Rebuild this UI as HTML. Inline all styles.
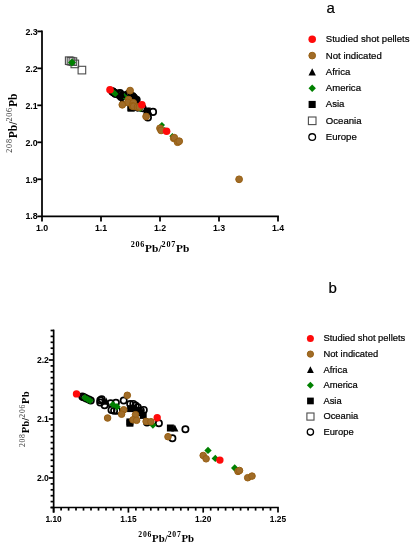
<!DOCTYPE html>
<html><head><meta charset="utf-8"><title>Figure</title>
<style>
html,body{margin:0;padding:0;background:#fff}
svg{display:block;filter:blur(0.35px)}
.t{font-family:"Liberation Sans",Arial,sans-serif;font-weight:bold;fill:#000}
.l{font-family:"Liberation Sans",Arial,sans-serif;fill:#000;stroke:#000;stroke-width:0.2px}
.s{font-family:"Liberation Serif","Times New Roman",serif;font-weight:bold;fill:#000}
</style></head><body>
<svg width="414" height="550" viewBox="0 0 414 550">
<rect width="414" height="550" fill="#fff"/>
<g stroke="#000" stroke-width="1.75" fill="none">
<path d="M42 30.53V221.6"/>
<path d="M37.3 216.25H278.9"/>
<path d="M37.3 31.40H42"/>
<path d="M37.3 68.37H42"/>
<path d="M37.3 105.34H42"/>
<path d="M37.3 142.31H42"/>
<path d="M37.3 179.28H42"/>
<path d="M101.0 216.25V221.6"/>
<path d="M160.0 216.25V221.6"/>
<path d="M219.0 216.25V221.6"/>
<path d="M278.0 216.25V221.6"/>
</g>
<text class="t" x="37.7" y="34.6" font-size="8.8" text-anchor="end">2.3</text>
<text class="t" x="37.7" y="71.6" font-size="8.8" text-anchor="end">2.2</text>
<text class="t" x="37.7" y="108.5" font-size="8.8" text-anchor="end">2.1</text>
<text class="t" x="37.7" y="145.5" font-size="8.8" text-anchor="end">2.0</text>
<text class="t" x="37.7" y="182.5" font-size="8.8" text-anchor="end">1.9</text>
<text class="t" x="37.7" y="219.4" font-size="8.8" text-anchor="end">1.8</text>
<text class="t" x="42.0" y="231.2" font-size="8.8" text-anchor="middle">1.0</text>
<text class="t" x="101.0" y="231.2" font-size="8.8" text-anchor="middle">1.1</text>
<text class="t" x="160.0" y="231.2" font-size="8.8" text-anchor="middle">1.2</text>
<text class="t" x="219.0" y="231.2" font-size="8.8" text-anchor="middle">1.3</text>
<text class="t" x="278.0" y="231.2" font-size="8.8" text-anchor="middle">1.4</text>
<text class="s" x="160" y="251.5" font-size="11.4" text-anchor="middle"><tspan font-size="8.1" dy="-4.4" letter-spacing="0.75">206</tspan><tspan dy="4.4">Pb/</tspan><tspan font-size="8.1" dy="-4.4" letter-spacing="0.75">207</tspan><tspan dy="4.4">Pb</tspan></text>
<text class="s" transform="translate(16.7 123.2) rotate(-90)" font-size="11.5" text-anchor="middle"><tspan font-size="8.2" dy="-4.5" letter-spacing="0.75" font-weight="normal" fill="#3a3a3a">208</tspan><tspan dy="4.5">Pb/</tspan><tspan font-size="8.2" dy="-4.5" letter-spacing="0.75" font-weight="normal" fill="#3a3a3a">206</tspan><tspan dy="4.5">Pb</tspan></text>
<g stroke="#000" stroke-width="1.7" fill="none">
<path d="M53.65 329.65V512.6"/>
<path d="M50.6 507.5H278.8"/>
<path d="M50.6 330.5H54"/>
<path d="M50.6 336.4H54"/>
<path d="M50.6 342.3H54"/>
<path d="M50.6 348.2H54"/>
<path d="M50.6 354.1H54"/>
<path d="M48.8 360.0H54"/>
<path d="M50.6 365.9H54"/>
<path d="M50.6 371.8H54"/>
<path d="M50.6 377.7H54"/>
<path d="M50.6 383.6H54"/>
<path d="M50.6 389.5H54"/>
<path d="M50.6 395.4H54"/>
<path d="M50.6 401.3H54"/>
<path d="M50.6 407.2H54"/>
<path d="M50.6 413.1H54"/>
<path d="M48.8 419.0H54"/>
<path d="M50.6 424.9H54"/>
<path d="M50.6 430.8H54"/>
<path d="M50.6 436.7H54"/>
<path d="M50.6 442.6H54"/>
<path d="M50.6 448.5H54"/>
<path d="M50.6 454.4H54"/>
<path d="M50.6 460.3H54"/>
<path d="M50.6 466.2H54"/>
<path d="M50.6 472.1H54"/>
<path d="M48.8 478.0H54"/>
<path d="M50.6 483.9H54"/>
<path d="M50.6 489.8H54"/>
<path d="M50.6 495.7H54"/>
<path d="M50.6 501.6H54"/>
<path d="M50.6 507.5H54"/>
<path d="M53.6 507.5V512.6"/>
<path d="M61.1 507.5V510.6"/>
<path d="M68.6 507.5V510.6"/>
<path d="M76.0 507.5V510.6"/>
<path d="M83.5 507.5V510.6"/>
<path d="M91.0 507.5V510.6"/>
<path d="M98.5 507.5V510.6"/>
<path d="M106.0 507.5V510.6"/>
<path d="M113.4 507.5V510.6"/>
<path d="M120.9 507.5V510.6"/>
<path d="M128.4 507.5V512.6"/>
<path d="M135.9 507.5V510.6"/>
<path d="M143.4 507.5V510.6"/>
<path d="M150.8 507.5V510.6"/>
<path d="M158.3 507.5V510.6"/>
<path d="M165.8 507.5V510.6"/>
<path d="M173.3 507.5V510.6"/>
<path d="M180.8 507.5V510.6"/>
<path d="M188.2 507.5V510.6"/>
<path d="M195.7 507.5V510.6"/>
<path d="M203.2 507.5V512.6"/>
<path d="M210.7 507.5V510.6"/>
<path d="M218.2 507.5V510.6"/>
<path d="M225.6 507.5V510.6"/>
<path d="M233.1 507.5V510.6"/>
<path d="M240.6 507.5V510.6"/>
<path d="M248.1 507.5V510.6"/>
<path d="M255.6 507.5V510.6"/>
<path d="M263.0 507.5V510.6"/>
<path d="M270.5 507.5V510.6"/>
<path d="M278.0 507.5V512.6"/>
</g>
<text class="t" x="48.9" y="363.3" font-size="8.6" text-anchor="end">2.2</text>
<text class="t" x="48.9" y="422.3" font-size="8.6" text-anchor="end">2.1</text>
<text class="t" x="48.9" y="481.3" font-size="8.6" text-anchor="end">2.0</text>
<text class="t" x="53.6" y="522.4" font-size="8.4" text-anchor="middle">1.10</text>
<text class="t" x="128.4" y="522.4" font-size="8.4" text-anchor="middle">1.15</text>
<text class="t" x="203.2" y="522.4" font-size="8.4" text-anchor="middle">1.20</text>
<text class="t" x="278.0" y="522.4" font-size="8.4" text-anchor="middle">1.25</text>
<text class="s" x="166.2" y="541.5" font-size="10.8" text-anchor="middle"><tspan font-size="7.7" dy="-4.2" letter-spacing="0.75">206</tspan><tspan dy="4.2">Pb/</tspan><tspan font-size="7.7" dy="-4.2" letter-spacing="0.75">207</tspan><tspan dy="4.2">Pb</tspan></text>
<text class="s" transform="translate(29.1 419.2) rotate(-90)" font-size="10.8" text-anchor="middle"><tspan font-size="7.7" dy="-4.2" letter-spacing="0.75" font-weight="normal" fill="#3a3a3a">208</tspan><tspan dy="4.2">Pb/</tspan><tspan font-size="7.7" dy="-4.2" letter-spacing="0.75" font-weight="normal" fill="#3a3a3a">206</tspan><tspan dy="4.2">Pb</tspan></text>
<text class="l" x="326.5" y="12.9" font-size="15">a</text>
<text class="l" x="328.5" y="292.9" font-size="15">b</text>
<circle cx="312.2" cy="39.3" r="3.76" fill="#ff0a0a"/>
<text class="l" x="325.8" y="42.2" font-size="9.6">Studied shot pellets</text>
<circle cx="312.2" cy="55.6" r="3.36" fill="#a06c28" stroke="#985f12" stroke-width="1"/>
<text class="l" x="325.8" y="58.5" font-size="9.6">Not indicated</text>
<path d="M312.2 68.2L315.9 75.6L308.5 75.6Z" fill="#000"/>
<text class="l" x="325.8" y="74.8" font-size="9.6">Africa</text>
<path d="M312.2 84.5L315.9 88.2L312.2 91.9L308.5 88.2Z" fill="#008000"/>
<text class="l" x="325.8" y="91.1" font-size="9.6">America</text>
<rect x="308.6" y="100.9" width="7.1" height="7.1" fill="#000"/>
<text class="l" x="325.8" y="107.4" font-size="9.6">Asia</text>
<rect x="308.4" y="117.0" width="7.6" height="7.6" fill="none" stroke="#4c4c4c" stroke-width="1.1"/>
<text class="l" x="325.8" y="123.7" font-size="9.6">Oceania</text>
<circle cx="312.2" cy="137.1" r="3.36" fill="none" stroke="#000" stroke-width="1.3"/>
<text class="l" x="325.8" y="140.0" font-size="9.6">Europe</text>
<circle cx="310.4" cy="338.5" r="3.51" fill="#ff0a0a"/>
<text class="l" x="323.4" y="341.3" font-size="9.4">Studied shot pellets</text>
<circle cx="310.4" cy="354.1" r="3.14" fill="#a06c28" stroke="#985f12" stroke-width="1"/>
<text class="l" x="323.4" y="356.9" font-size="9.4">Not indicated</text>
<path d="M310.4 366.3L313.8 373.1L307.0 373.1Z" fill="#000"/>
<text class="l" x="323.4" y="372.5" font-size="9.4">Africa</text>
<path d="M310.4 381.8L313.9 385.3L310.4 388.8L306.9 385.3Z" fill="#008000"/>
<text class="l" x="323.4" y="388.1" font-size="9.4">America</text>
<rect x="307.1" y="397.6" width="6.7" height="6.7" fill="#000"/>
<text class="l" x="323.4" y="403.7" font-size="9.4">Asia</text>
<rect x="306.9" y="413.0" width="7.1" height="7.1" fill="none" stroke="#4c4c4c" stroke-width="1.1"/>
<text class="l" x="323.4" y="419.3" font-size="9.4">Oceania</text>
<circle cx="310.4" cy="432.1" r="3.14" fill="none" stroke="#000" stroke-width="1.3"/>
<text class="l" x="323.4" y="434.9" font-size="9.4">Europe</text>
<g id="top">
<rect x="65.4" y="56.9" width="7.6" height="7.6" fill="none" stroke="#4c4c4c" stroke-width="1.1"/>
<rect x="67.2" y="57.4" width="7.6" height="7.6" fill="none" stroke="#4c4c4c" stroke-width="1.1"/>
<rect x="69.1" y="57.8" width="7.6" height="7.6" fill="none" stroke="#4c4c4c" stroke-width="1.1"/>
<rect x="71.0" y="60.1" width="7.6" height="7.6" fill="none" stroke="#4c4c4c" stroke-width="1.1"/>
<rect x="78.1" y="66.3" width="7.6" height="7.6" fill="none" stroke="#4c4c4c" stroke-width="1.1"/>
<path d="M72.0 58.4L76.0 62.4L72.0 66.4L68.0 62.4Z" fill="#008000"/>
<circle cx="112.3" cy="91.3" r="3.23" fill="none" stroke="#000" stroke-width="1.7"/>
<circle cx="112.6" cy="91.6" r="3.23" fill="none" stroke="#000" stroke-width="1.7"/>
<circle cx="113.2" cy="92.0" r="3.23" fill="none" stroke="#000" stroke-width="1.7"/>
<circle cx="113.9" cy="92.6" r="3.23" fill="none" stroke="#000" stroke-width="1.7"/>
<circle cx="114.9" cy="93.2" r="3.23" fill="none" stroke="#000" stroke-width="1.7"/>
<circle cx="115.7" cy="93.9" r="3.23" fill="none" stroke="#000" stroke-width="1.7"/>
<circle cx="119.4" cy="93.7" r="3.23" fill="none" stroke="#000" stroke-width="1.7"/>
<circle cx="120.0" cy="93.0" r="3.23" fill="none" stroke="#000" stroke-width="1.7"/>
<circle cx="119.4" cy="95.2" r="3.23" fill="none" stroke="#000" stroke-width="1.7"/>
<circle cx="121.1" cy="96.9" r="3.23" fill="none" stroke="#000" stroke-width="1.7"/>
<circle cx="123.5" cy="95.6" r="3.23" fill="none" stroke="#000" stroke-width="1.7"/>
<circle cx="125.6" cy="95.3" r="3.23" fill="none" stroke="#000" stroke-width="1.7"/>
<circle cx="123.8" cy="99.8" r="3.23" fill="none" stroke="#000" stroke-width="1.7"/>
<circle cx="124.9" cy="100.3" r="3.23" fill="none" stroke="#000" stroke-width="1.7"/>
<circle cx="126.0" cy="100.3" r="3.23" fill="none" stroke="#000" stroke-width="1.7"/>
<circle cx="128.6" cy="93.9" r="3.23" fill="none" stroke="#000" stroke-width="1.7"/>
<circle cx="131.2" cy="96.1" r="3.23" fill="none" stroke="#000" stroke-width="1.7"/>
<circle cx="132.4" cy="96.0" r="3.23" fill="none" stroke="#000" stroke-width="1.7"/>
<circle cx="133.3" cy="97.1" r="3.23" fill="none" stroke="#000" stroke-width="1.7"/>
<circle cx="134.2" cy="98.1" r="3.23" fill="none" stroke="#000" stroke-width="1.7"/>
<circle cx="135.4" cy="100.1" r="3.23" fill="none" stroke="#000" stroke-width="1.7"/>
<circle cx="136.6" cy="99.8" r="3.23" fill="none" stroke="#000" stroke-width="1.7"/>
<circle cx="137.8" cy="107.6" r="3.23" fill="none" stroke="#000" stroke-width="1.7"/>
<circle cx="142.5" cy="108.1" r="3.23" fill="none" stroke="#000" stroke-width="1.7"/>
<circle cx="147.9" cy="117.5" r="3.23" fill="none" stroke="#000" stroke-width="1.7"/>
<circle cx="153.0" cy="111.9" r="3.23" fill="none" stroke="#000" stroke-width="1.7"/>
<rect x="127.5" y="103.7" width="7.2" height="7.2" fill="#000"/>
<rect x="127.5" y="104.5" width="7.2" height="7.2" fill="#000"/>
<rect x="127.8" y="95.3" width="7.2" height="7.2" fill="#000"/>
<rect x="128.9" y="95.1" width="7.2" height="7.2" fill="#000"/>
<rect x="130.1" y="96.6" width="7.2" height="7.2" fill="#000"/>
<rect x="131.4" y="97.8" width="7.2" height="7.2" fill="#000"/>
<rect x="132.7" y="99.6" width="7.2" height="7.2" fill="#000"/>
<rect x="143.5" y="107.5" width="7.2" height="7.2" fill="#000"/>
<path d="M113.3 89.0L116.5 92.1L113.3 95.2L110.2 92.1Z" fill="#008000"/>
<path d="M114.4 90.0L117.6 93.2L114.4 96.3L111.3 93.2Z" fill="#008000"/>
<path d="M115.4 90.8L118.5 93.9L115.4 97.0L112.2 93.9Z" fill="#008000"/>
<path d="M124.4 93.3L127.5 96.4L124.4 99.6L121.3 96.4Z" fill="#008000"/>
<path d="M126.0 94.7L129.1 97.8L126.0 100.9L122.9 97.8Z" fill="#008000"/>
<path d="M140.2 106.1L143.3 109.2L140.2 112.3L137.0 109.2Z" fill="#008000"/>
<path d="M161.9 122.0L165.0 125.1L161.9 128.3L158.8 125.1Z" fill="#008000"/>
<path d="M164.8 127.0L167.9 130.1L164.8 133.3L161.6 130.1Z" fill="#008000"/>
<path d="M172.4 133.0L175.5 136.2L172.4 139.3L169.3 136.2Z" fill="#008000"/>
<path d="M121.7 90.6L125.5 98.0L118.0 98.0Z" fill="#000"/>
<path d="M148.8 107.4L152.5 114.8L145.1 114.8Z" fill="#000"/>
<circle cx="130.1" cy="90.6" r="3.39" fill="#a06c28" stroke="#985f12" stroke-width="1"/>
<circle cx="128.6" cy="99.7" r="3.39" fill="#a06c28" stroke="#985f12" stroke-width="1"/>
<circle cx="127.8" cy="102.4" r="3.39" fill="#a06c28" stroke="#985f12" stroke-width="1"/>
<circle cx="122.3" cy="104.8" r="3.39" fill="#a06c28" stroke="#985f12" stroke-width="1"/>
<circle cx="133.3" cy="102.8" r="3.39" fill="#a06c28" stroke="#985f12" stroke-width="1"/>
<circle cx="132.3" cy="106.0" r="3.39" fill="#a06c28" stroke="#985f12" stroke-width="1"/>
<circle cx="133.7" cy="106.3" r="3.39" fill="#a06c28" stroke="#985f12" stroke-width="1"/>
<circle cx="137.5" cy="107.0" r="3.39" fill="#a06c28" stroke="#985f12" stroke-width="1"/>
<circle cx="139.4" cy="107.1" r="3.39" fill="#a06c28" stroke="#985f12" stroke-width="1"/>
<circle cx="146.1" cy="116.5" r="3.39" fill="#a06c28" stroke="#985f12" stroke-width="1"/>
<circle cx="160.0" cy="128.3" r="3.39" fill="#a06c28" stroke="#985f12" stroke-width="1"/>
<circle cx="161.1" cy="130.4" r="3.39" fill="#a06c28" stroke="#985f12" stroke-width="1"/>
<circle cx="173.7" cy="138.3" r="3.39" fill="#a06c28" stroke="#985f12" stroke-width="1"/>
<circle cx="174.3" cy="137.7" r="3.39" fill="#a06c28" stroke="#985f12" stroke-width="1"/>
<circle cx="177.6" cy="142.2" r="3.39" fill="#a06c28" stroke="#985f12" stroke-width="1"/>
<circle cx="179.2" cy="141.2" r="3.39" fill="#a06c28" stroke="#985f12" stroke-width="1"/>
<circle cx="110.0" cy="89.7" r="3.79" fill="#ff0a0a"/>
<circle cx="141.9" cy="104.7" r="3.79" fill="#ff0a0a"/>
<circle cx="166.6" cy="131.2" r="3.79" fill="#ff0a0a"/>
<circle cx="239.1" cy="179.3" r="3.39" fill="#a06c28" stroke="#985f12" stroke-width="1"/>
</g>
<g id="bot">
<circle cx="82.3" cy="396.4" r="3.14" fill="none" stroke="#000" stroke-width="1.7"/>
<circle cx="83.0" cy="396.9" r="3.14" fill="none" stroke="#000" stroke-width="1.7"/>
<circle cx="84.5" cy="397.6" r="3.14" fill="none" stroke="#000" stroke-width="1.7"/>
<circle cx="86.4" cy="398.5" r="3.14" fill="none" stroke="#000" stroke-width="1.7"/>
<circle cx="88.8" cy="399.5" r="3.14" fill="none" stroke="#000" stroke-width="1.7"/>
<circle cx="90.8" cy="400.5" r="3.14" fill="none" stroke="#000" stroke-width="1.7"/>
<circle cx="100.3" cy="400.3" r="3.14" fill="none" stroke="#000" stroke-width="1.7"/>
<circle cx="101.7" cy="399.2" r="3.14" fill="none" stroke="#000" stroke-width="1.7"/>
<circle cx="100.2" cy="402.6" r="3.14" fill="none" stroke="#000" stroke-width="1.7"/>
<circle cx="104.6" cy="405.3" r="3.14" fill="none" stroke="#000" stroke-width="1.7"/>
<circle cx="110.6" cy="403.2" r="3.14" fill="none" stroke="#000" stroke-width="1.7"/>
<circle cx="115.9" cy="402.8" r="3.14" fill="none" stroke="#000" stroke-width="1.7"/>
<circle cx="111.5" cy="409.9" r="3.14" fill="none" stroke="#000" stroke-width="1.7"/>
<circle cx="114.1" cy="410.8" r="3.14" fill="none" stroke="#000" stroke-width="1.7"/>
<circle cx="117.0" cy="410.7" r="3.14" fill="none" stroke="#000" stroke-width="1.7"/>
<circle cx="123.7" cy="400.5" r="3.14" fill="none" stroke="#000" stroke-width="1.7"/>
<circle cx="130.2" cy="404.0" r="3.14" fill="none" stroke="#000" stroke-width="1.7"/>
<circle cx="133.3" cy="403.9" r="3.14" fill="none" stroke="#000" stroke-width="1.7"/>
<circle cx="135.6" cy="405.6" r="3.14" fill="none" stroke="#000" stroke-width="1.7"/>
<circle cx="137.8" cy="407.3" r="3.14" fill="none" stroke="#000" stroke-width="1.7"/>
<circle cx="140.8" cy="410.5" r="3.14" fill="none" stroke="#000" stroke-width="1.7"/>
<circle cx="143.8" cy="409.9" r="3.14" fill="none" stroke="#000" stroke-width="1.7"/>
<circle cx="147.0" cy="422.5" r="3.14" fill="none" stroke="#000" stroke-width="1.7"/>
<circle cx="158.9" cy="423.2" r="3.14" fill="none" stroke="#000" stroke-width="1.7"/>
<circle cx="172.4" cy="438.2" r="3.14" fill="none" stroke="#000" stroke-width="1.7"/>
<circle cx="185.4" cy="429.3" r="3.14" fill="none" stroke="#000" stroke-width="1.7"/>
<rect x="126.4" y="418.4" width="7.0" height="7.0" fill="#000"/>
<rect x="126.4" y="419.7" width="7.0" height="7.0" fill="#000"/>
<rect x="127.1" y="405.1" width="7.0" height="7.0" fill="#000"/>
<rect x="130.0" y="404.7" width="7.0" height="7.0" fill="#000"/>
<rect x="133.1" y="407.1" width="7.0" height="7.0" fill="#000"/>
<rect x="136.3" y="409.1" width="7.0" height="7.0" fill="#000"/>
<rect x="139.7" y="411.9" width="7.0" height="7.0" fill="#000"/>
<rect x="166.9" y="424.5" width="7.0" height="7.0" fill="#000"/>
<path d="M84.9 394.0L88.6 397.7L84.9 401.4L81.2 397.7Z" fill="#008000"/>
<path d="M87.7 395.7L91.4 399.4L87.7 403.1L84.0 399.4Z" fill="#008000"/>
<path d="M90.0 396.9L93.7 400.6L90.0 404.3L86.3 400.6Z" fill="#008000"/>
<path d="M112.9 400.9L116.6 404.6L112.9 408.3L109.2 404.6Z" fill="#008000"/>
<path d="M117.0 403.1L120.7 406.8L117.0 410.5L113.3 406.8Z" fill="#008000"/>
<path d="M152.9 421.3L156.6 425.0L152.9 428.7L149.2 425.0Z" fill="#008000"/>
<path d="M208.0 446.7L211.7 450.4L208.0 454.1L204.3 450.4Z" fill="#008000"/>
<path d="M215.3 454.7L219.0 458.4L215.3 462.1L211.6 458.4Z" fill="#008000"/>
<path d="M234.7 464.3L238.4 468.0L234.7 471.7L231.0 468.0Z" fill="#008000"/>
<path d="M106.2 397.6L109.8 404.8L102.6 404.8Z" fill="#000"/>
<path d="M174.8 424.4L178.4 431.6L171.2 431.6Z" fill="#000"/>
<circle cx="127.3" cy="395.3" r="3.30" fill="#a06c28" stroke="#985f12" stroke-width="1"/>
<circle cx="123.7" cy="409.8" r="3.30" fill="#a06c28" stroke="#985f12" stroke-width="1"/>
<circle cx="121.6" cy="414.2" r="3.30" fill="#a06c28" stroke="#985f12" stroke-width="1"/>
<circle cx="107.6" cy="418.0" r="3.30" fill="#a06c28" stroke="#985f12" stroke-width="1"/>
<circle cx="135.5" cy="414.7" r="3.30" fill="#a06c28" stroke="#985f12" stroke-width="1"/>
<circle cx="133.0" cy="419.8" r="3.30" fill="#a06c28" stroke="#985f12" stroke-width="1"/>
<circle cx="136.6" cy="420.3" r="3.30" fill="#a06c28" stroke="#985f12" stroke-width="1"/>
<circle cx="146.1" cy="421.4" r="3.30" fill="#a06c28" stroke="#985f12" stroke-width="1"/>
<circle cx="150.9" cy="421.7" r="3.30" fill="#a06c28" stroke="#985f12" stroke-width="1"/>
<circle cx="168.0" cy="436.7" r="3.30" fill="#a06c28" stroke="#985f12" stroke-width="1"/>
<circle cx="203.2" cy="455.5" r="3.30" fill="#a06c28" stroke="#985f12" stroke-width="1"/>
<circle cx="206.1" cy="458.8" r="3.30" fill="#a06c28" stroke="#985f12" stroke-width="1"/>
<circle cx="238.0" cy="471.4" r="3.30" fill="#a06c28" stroke="#985f12" stroke-width="1"/>
<circle cx="239.5" cy="470.5" r="3.30" fill="#a06c28" stroke="#985f12" stroke-width="1"/>
<circle cx="247.7" cy="477.7" r="3.30" fill="#a06c28" stroke="#985f12" stroke-width="1"/>
<circle cx="252.0" cy="476.1" r="3.30" fill="#a06c28" stroke="#985f12" stroke-width="1"/>
<circle cx="76.5" cy="393.9" r="3.69" fill="#ff0a0a"/>
<circle cx="157.2" cy="417.8" r="3.69" fill="#ff0a0a"/>
<circle cx="219.9" cy="460.1" r="3.69" fill="#ff0a0a"/>
</g>
</svg></body></html>
